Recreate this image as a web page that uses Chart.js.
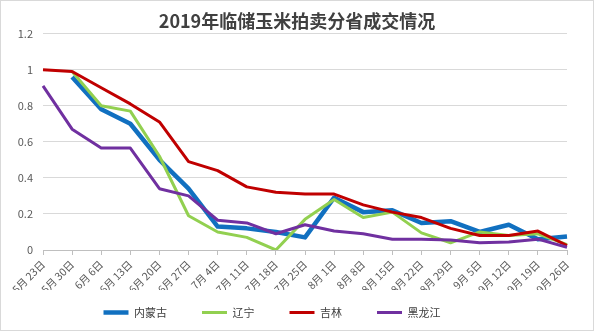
<!DOCTYPE html>
<html>
<head>
<meta charset="utf-8">
<script src="https://cdn.jsdelivr.net/npm/chart.js@4"></script>
<style>
  body { margin: 0; background: #fff; }
  #wrap { width: 594px; height: 332px; }
</style>
</head>
<body>
<div id="wrap"><canvas id="chart" width="594" height="332"></canvas></div>
<script>
// Weekly auction dates
const dates = ['5月 23日', '5月 30日', '6月 6日', '6月 13日', '6月 20日', '6月 27日', '7月 4日', '7月 11日', '7月 18日', '7月 25日',
    '8月 1日', '8月 8日', '8月 15日', '8月 22日', '8月 29日', '9月 5日', '9月 12日', '9月 19日', '9月 26日'];

// Deal ratio per province
const neimenggu = [null, 0.96, 0.78, 0.70, 0.50, 0.34, 0.13, 0.12, 0.10, 0.07, 0.29, 0.21, 0.22, 0.15, 0.16, 0.10, 0.14, 0.06, 0.075];
const liaoning = [null, 0.99, 0.80, 0.77, 0.52, 0.19, 0.10, 0.07, 0.00, 0.17, 0.28, 0.18, 0.21, 0.095, 0.04, 0.10, 0.08, 0.09, 0.03];
const jilin = [1.0, 0.99, 0.90, 0.81, 0.71, 0.49, 0.44, 0.35, 0.32, 0.31, 0.31, 0.25, 0.21, 0.18, 0.12, 0.08, 0.08, 0.105, 0.025];
const heilongjiang = [0.91, 0.67, 0.565, 0.565, 0.34, 0.30, 0.165, 0.15, 0.09, 0.14, 0.105, 0.09, 0.06, 0.06, 0.055, 0.04, 0.045, 0.06, 0.015];

const yTicks = [0, 0.2, 0.4, 0.6, 0.8, 1, 1.2];
const yTickLabels = ['0', '0.2', '0.4', '0.6', '0.8', '1', '1.2'];

const font = "'Noto Sans CJK SC', 'Noto Sans', sans-serif";

function series(label, data, color, width, order) {
    return {
        label: label,
        data: data,
        borderColor: color,
        backgroundColor: color,
        borderWidth: width,
        pointRadius: 0,
        tension: 0,
        borderJoinStyle: 'round',
        order: order
    };
}

// white background + thin frame round the whole chart
const frame = {
    id: 'frame',
    beforeDraw(chart) {
        const c = chart.ctx;
        c.save();
        c.fillStyle = '#fff';
        c.fillRect(0, 0, chart.width, chart.height);
        c.strokeStyle = '#d9d9d9';
        c.lineWidth = 1;
        c.strokeRect(0.5, 0.5, chart.width - 1, chart.height - 2);
        c.restore();
    }
};

// legend keeps wide gaps between items but only takes a short strip,
// then gets moved into place together with the title
const placeBlocks = {
    id: 'placeBlocks',
    beforeLayout(chart) {
        const lg = chart.legend;
        if (lg && !lg._fitPatched) {
            const fit = lg.fit.bind(lg);
            lg.fit = function () { fit(); this.height = 42; };
            lg._fitPatched = true;
        }
    },
    afterLayout(chart) {
        const lg = chart.legend;
        const dy = 313 - (lg.top + lg.options.labels.padding + 6);
        lg.top += dy;
        lg.bottom = lg.top + 80;
        lg.left -= 14;
        lg.right -= 14;
        const t = chart.titleBlock;
        t.left += 11;
        t.right += 11;
    }
};

const ctx = document.getElementById('chart').getContext('2d');
new Chart(ctx, {
    type: 'line',
    data: {
        labels: dates,
        datasets: [
            series('内蒙古', neimenggu, '#1170c0', 4.5, 4),
            series('辽宁', liaoning, '#92d050', 3, 3),
            series('吉林', jilin, '#c00000', 3, 2),
            series('黑龙江', heilongjiang, '#7030a0', 3, 1)
        ]
    },
    options: {
        responsive: false,
        animation: false,
        layout: { padding: { left: 5, right: 27, top: 0, bottom: 0 } },
        plugins: {
            title: {
                display: true,
                text: '2019年临储玉米拍卖分省成交情况',
                color: '#404040',
                font: { family: font, size: 18, weight: 'bold' },
                padding: { top: 10, bottom: 2 }
            },
            legend: {
                position: 'bottom',
                labels: {
                    usePointStyle: true,
                    pointStyle: 'line',
                    pointStyleWidth: 25,
                    padding: 35,
                    color: '#404040',
                    font: { family: font, size: 11 },
                    sort: (a, b) => a.datasetIndex - b.datasetIndex
                }
            },
            tooltip: { enabled: false }
        },
        scales: {
            x: {
                offset: false,
                afterFit: (scale) => { scale.height = 40; },
                grid: { drawOnChartArea: false, drawTicks: true, tickLength: 5, color: '#bfbfbf' },
                border: { display: true, color: '#bfbfbf' },
                ticks: {
                    autoSkip: false,
                    minRotation: 45,
                    maxRotation: 45,
                    padding: 3,
                    color: '#595959',
                    font: { family: font, size: 10.5 }
                }
            },
            y: {
                min: 0,
                max: 1.2,
                afterFit: (scale) => { scale.width = 38; },
                afterBuildTicks: (scale) => { scale.ticks = yTicks.map(v => ({ value: v })); },
                grid: { color: '#d9d9d9', drawTicks: false },
                border: { display: false },
                ticks: {
                    padding: 10,
                    color: '#595959',
                    font: { family: font, size: 11 },
                    callback: (value, index) => yTickLabels[index]
                }
            }
        }
    },
    plugins: [frame, placeBlocks]
});
</script>
</body>
</html>
